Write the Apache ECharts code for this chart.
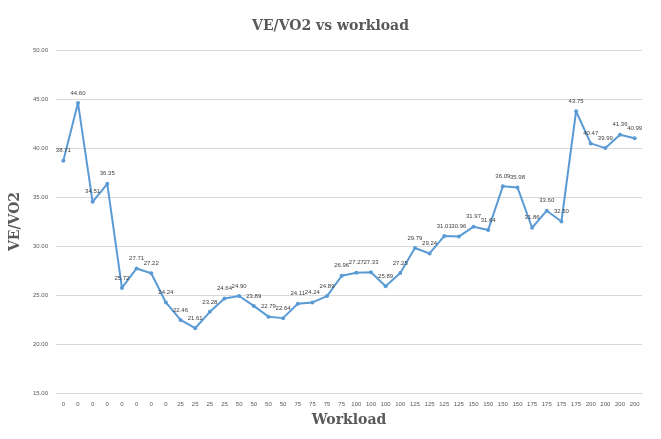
<!DOCTYPE html>
<html>
<head>
<meta charset="utf-8">
<script src="https://cdn.jsdelivr.net/npm/echarts@6/dist/echarts.min.js"></script>
<style>
  html, body { margin: 0; padding: 0; background: #fff; }
  #chart { width: 661px; height: 439px; }
</style>
</head>
<body>
<div id="chart"></div>
<script>
// workload steps, 8 at rest then 4 readings per stage
const workload = ['0', '0', '0', '0', '0', '0', '0', '0',
  '25', '25', '25', '25', '50', '50', '50', '50', '75', '75', '75', '75',
  '100', '100', '100', '100', '125', '125', '125', '125', '150', '150', '150', '150',
  '175', '175', '175', '175', '200', '200', '200', '200'];
const veVo2 = [38.71, 44.60, 34.51, 36.35, 25.72, 27.71, 27.22, 24.24,
  22.46, 21.61, 23.28, 24.64, 24.90, 23.89, 22.79, 22.64,
  24.11, 24.24, 24.89, 26.96, 27.27, 27.33, 25.89, 27.25,
  29.79, 29.24, 31.01, 30.96, 31.97, 31.64, 36.09, 35.98,
  31.86, 33.60, 32.50, 43.75, 40.47, 39.99, 41.36, 40.99];

const myChart = echarts.init(document.getElementById('chart'));
myChart.setOption({
  animation: false,
  backgroundColor: '#fff',
  title: {
    text: 'VE/VO2 vs workload',
    left: 'center',
    top: 14,
    textStyle: { fontFamily: 'DejaVu Serif', fontWeight: 'bold', fontSize: 14, color: '#595959' }
  },
  grid: { left: 56, right: 19, top: 50, bottom: 46 },
  xAxis: {
    type: 'category',
    data: workload,
    name: 'Workload',
    nameLocation: 'middle',
    nameGap: 20,
    nameTextStyle: { fontFamily: 'DejaVu Serif', fontWeight: 'bold', fontSize: 14, color: '#595959' },
    axisLine: { lineStyle: { color: '#d9d9d9' } },
    axisTick: { show: false },
    axisLabel: { interval: 0, fontSize: 6, color: '#595959', margin: 8 }
  },
  yAxis: {
    type: 'value',
    min: 15,
    max: 50,
    interval: 5,
    name: 'VE/VO2',
    nameLocation: 'middle',
    nameGap: 34,
    nameTextStyle: { fontFamily: 'DejaVu Serif', fontWeight: 'bold', fontSize: 14, color: '#595959' },
    axisLine: { show: false },
    axisTick: { show: false },
    axisLabel: { fontSize: 6, color: '#595959', formatter: v => v.toFixed(2) },
    splitLine: { lineStyle: { color: '#d9d9d9' } }
  },
  series: [{
    type: 'line',
    data: veVo2,
    symbol: 'circle',
    symbolSize: 4,
    lineStyle: { color: '#5b9bd5', width: 2 },
    itemStyle: { color: '#5b9bd5' },
    label: {
      show: true,
      position: 'top',
      fontSize: 6,
      color: '#404040',
      formatter: p => p.value.toFixed(2)
    }
  }]
});
</script>
</body>
</html>
